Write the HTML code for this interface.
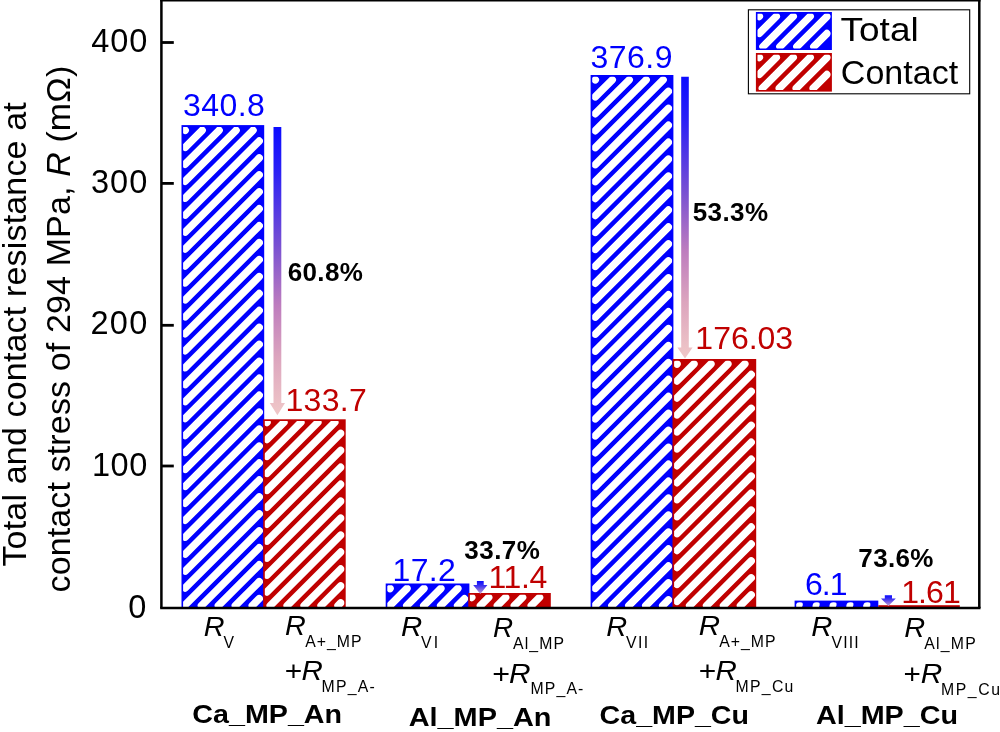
<!DOCTYPE html>
<html lang="en"><head><meta charset="utf-8"><title>Total and contact resistance</title>
<style>html,body{margin:0;padding:0;background:#fff}svg{display:block}text{font-family:"Liberation Sans",Arial,Helvetica,sans-serif}.b{font-weight:bold}.i{font-style:italic}</style></head><body>
<svg width="1000" height="732" viewBox="0 0 1000 732">
<defs>
<linearGradient id="g1" x1="0" y1="0" x2="0" y2="1"><stop offset="0" stop-color="#0c0cff"/><stop offset="0.15" stop-color="#2a20f5"/><stop offset="0.41" stop-color="#7850d2"/><stop offset="0.62" stop-color="#be7dbe"/><stop offset="0.8" stop-color="#dca5be"/><stop offset="1" stop-color="#f0c8c8"/></linearGradient>
<linearGradient id="g2" x1="0" y1="0" x2="0" y2="1"><stop offset="0" stop-color="#0a0aff"/><stop offset="0.35" stop-color="#3a30f0"/><stop offset="1" stop-color="#c9a0cf"/></linearGradient>
</defs>
<rect width="1000" height="732" fill="#fff"/>
<g id="bars">
<rect x="181.5" y="125.1" width="82.7" height="483.9" fill="#0000ff"/><clipPath id="c1"><rect x="183.1" y="126.9" width="79.9" height="480.5"/></clipPath><path clip-path="url(#c1)" d="M185.20 130.30L185.21 130.29M185.20 147.25L202.15 130.30M185.20 164.20L219.10 130.30M185.20 181.15L236.05 130.30M185.20 198.10L253.00 130.30M185.20 215.05L259.20 141.05M185.20 232.00L259.20 158.00M185.20 248.95L259.20 174.95M185.20 265.90L259.20 191.90M185.20 282.85L259.20 208.85M185.20 299.80L259.20 225.80M185.20 316.75L259.20 242.75M185.20 333.70L259.20 259.70M185.20 350.65L259.20 276.65M185.20 367.60L259.20 293.60M185.20 384.55L259.20 310.55M185.20 401.50L259.20 327.50M185.20 418.45L259.20 344.45M185.20 435.40L259.20 361.40M185.20 452.35L259.20 378.35M185.20 469.30L259.20 395.30M185.20 486.25L259.20 412.25M185.20 503.20L259.20 429.20M185.20 520.15L259.20 446.15M185.20 537.10L259.20 463.10M185.20 554.05L259.20 480.05M185.20 571.00L259.20 497.00M185.20 587.95L259.20 513.95M185.20 604.90L259.20 530.90M201.45 605.60L259.20 547.85M218.40 605.60L259.20 564.80M235.35 605.60L259.20 581.75M252.30 605.60L259.20 598.70" stroke="#fff" stroke-width="7.5" stroke-linecap="round" fill="none"/>
<rect x="263.2" y="419.3" width="82.5" height="189.7" fill="#c00000"/><clipPath id="c2"><rect x="264.8" y="421.1" width="79.7" height="186.3"/></clipPath><path clip-path="url(#c2)" d="M266.95 422.45L266.96 422.44M266.95 439.40L283.90 422.45M266.95 456.35L300.85 422.45M266.95 473.30L317.80 422.45M266.95 490.25L334.75 422.45M266.95 507.20L340.70 433.45M266.95 524.15L340.70 450.40M266.95 541.10L340.70 467.35M266.95 558.05L340.70 484.30M266.95 575.00L340.70 501.25M266.95 591.95L340.70 518.20M270.25 605.60L340.70 535.15M287.20 605.60L340.70 552.10M304.15 605.60L340.70 569.05M321.10 605.60L340.70 586.00M338.05 605.60L340.70 602.95" stroke="#fff" stroke-width="7.5" stroke-linecap="round" fill="none"/>
<rect x="385.7" y="583.5" width="83.7" height="25.5" fill="#0000ff"/><clipPath id="c3"><rect x="387.3" y="585.3" width="80.9" height="22.1"/></clipPath><path clip-path="url(#c3)" d="M390.00 588.50L390.01 588.49M390.00 605.45L406.95 588.50M406.80 605.60L423.90 588.50M423.75 605.60L440.85 588.50M440.70 605.60L457.80 588.50M457.65 605.60L464.40 598.85" stroke="#fff" stroke-width="7.5" stroke-linecap="round" fill="none"/>
<rect x="468.3" y="593.0" width="82.5" height="16.0" fill="#c00000"/><clipPath id="c4"><rect x="469.9" y="594.8" width="79.7" height="12.6"/></clipPath><path clip-path="url(#c4)" d="M471.70 597.40L471.71 597.39M480.45 605.60L488.65 597.40M497.40 605.60L505.60 597.40M514.35 605.60L522.55 597.40M531.30 605.60L539.50 597.40" stroke="#fff" stroke-width="7.5" stroke-linecap="round" fill="none"/>
<rect x="590.6" y="75.0" width="82.8" height="534.0" fill="#0000ff"/><clipPath id="c5"><rect x="592.2" y="76.8" width="80.0" height="530.6"/></clipPath><path clip-path="url(#c5)" d="M595.30 79.80L595.31 79.79M595.30 96.75L612.25 79.80M595.30 113.70L629.20 79.80M595.30 130.65L646.15 79.80M595.30 147.60L663.10 79.80M595.30 164.55L668.40 91.45M595.30 181.50L668.40 108.40M595.30 198.45L668.40 125.35M595.30 215.40L668.40 142.30M595.30 232.35L668.40 159.25M595.30 249.30L668.40 176.20M595.30 266.25L668.40 193.15M595.30 283.20L668.40 210.10M595.30 300.15L668.40 227.05M595.30 317.10L668.40 244.00M595.30 334.05L668.40 260.95M595.30 351.00L668.40 277.90M595.30 367.95L668.40 294.85M595.30 384.90L668.40 311.80M595.30 401.85L668.40 328.75M595.30 418.80L668.40 345.70M595.30 435.75L668.40 362.65M595.30 452.70L668.40 379.60M595.30 469.65L668.40 396.55M595.30 486.60L668.40 413.50M595.30 503.55L668.40 430.45M595.30 520.50L668.40 447.40M595.30 537.45L668.40 464.35M595.30 554.40L668.40 481.30M595.30 571.35L668.40 498.25M595.30 588.30L668.40 515.20M595.30 605.25L668.40 532.15M611.90 605.60L668.40 549.10M628.85 605.60L668.40 566.05M645.80 605.60L668.40 583.00M662.75 605.60L668.40 599.95" stroke="#fff" stroke-width="7.5" stroke-linecap="round" fill="none"/>
<rect x="672.5" y="359.0" width="83.7" height="250.0" fill="#c00000"/><clipPath id="c6"><rect x="674.1" y="360.8" width="80.9" height="246.6"/></clipPath><path clip-path="url(#c6)" d="M677.00 364.00L677.01 363.99M677.00 380.95L693.95 364.00M677.00 397.90L710.90 364.00M677.00 414.85L727.85 364.00M677.00 431.80L744.80 364.00M677.00 448.75L751.20 374.55M677.00 465.70L751.20 391.50M677.00 482.65L751.20 408.45M677.00 499.60L751.20 425.40M677.00 516.55L751.20 442.35M677.00 533.50L751.20 459.30M677.00 550.45L751.20 476.25M677.00 567.40L751.20 493.20M677.00 584.35L751.20 510.15M677.00 601.30L751.20 527.10M689.65 605.60L751.20 544.05M706.60 605.60L751.20 561.00M723.55 605.60L751.20 577.95M740.50 605.60L751.20 594.90" stroke="#fff" stroke-width="7.5" stroke-linecap="round" fill="none"/>
<rect x="794.6" y="600.6" width="83.7" height="7.4" fill="#0000ff"/>
<clipPath id="cb7"><rect x="796.2" y="602.3" width="80.9" height="6"/></clipPath>
<g clip-path="url(#cb7)" fill="#fff"><ellipse cx="799.2" cy="605.3" rx="3.5" ry="3.3" transform="skewX(-12)" style="transform-origin:799.2px 605.3px"/><ellipse cx="816.1" cy="605.3" rx="3.5" ry="3.3" transform="skewX(-12)" style="transform-origin:816.1px 605.3px"/><ellipse cx="833.0" cy="605.3" rx="3.5" ry="3.3" transform="skewX(-12)" style="transform-origin:833.0px 605.3px"/><ellipse cx="849.9" cy="605.3" rx="3.5" ry="3.3" transform="skewX(-12)" style="transform-origin:849.9px 605.3px"/><ellipse cx="866.8" cy="605.3" rx="3.5" ry="3.3" transform="skewX(-12)" style="transform-origin:866.8px 605.3px"/></g>
<rect x="878.3" y="605.2" width="81.5" height="2.8" fill="#c00000"/>
</g>
<g id="arrows">
<path d="M273.5 127.0H281.3V403.0H285.0L277.4 415.2L269.8 403.0H273.5Z" fill="url(#g1)"/>
<path d="M681.2 76.8H688.8V347.4H692.6L685.0 358.4L677.4 347.4H681.2Z" fill="url(#g1)"/>
<path d="M476.9 581.0H483.7V585.0H487.4L480.3 594.0L473.2 585.0H476.9Z" fill="url(#g2)"/>
<path d="M884.8 595.2H892.0V598.4H895.8L888.4 606.0L881.0 598.4H884.8Z" fill="url(#g2)"/>
</g>
<g id="axes" stroke="#000" fill="none">
<path d="M161.4 0V608.0M979.3 0V608.0" stroke-width="2.5"/>
<path d="M160.15 608.0H980.55" stroke-width="2.5"/>
<path d="M160.15 0.3H980.55" stroke-width="2.6"/>
<path d="M161 466.0H173.8" stroke-width="2.8"/>
<path d="M161 325.3H173.8" stroke-width="2.8"/>
<path d="M161 183.4H173.8" stroke-width="2.8"/>
<path d="M161 42.5H173.8" stroke-width="2.8"/>
</g>
<g id="legend">
<rect x="748.4" y="9.8" width="221.3" height="84" fill="#fff" stroke="#000" stroke-width="1.1"/>
<rect x="755.9" y="12.0" width="76.0" height="38.0" fill="#0000ff"/><clipPath id="c7"><rect x="757.5" y="13.8" width="73.2" height="34.6"/></clipPath><path clip-path="url(#c7)" d="M759.30 16.40L759.31 16.39M759.30 33.35L776.25 16.40M763.00 46.60L793.20 16.40M779.95 46.60L810.15 16.40M796.90 46.60L826.90 16.60M813.85 46.60L826.90 33.55" stroke="#fff" stroke-width="7.5" stroke-linecap="round" fill="none"/>
<rect x="755.9" y="53.0" width="76.0" height="38.6" fill="#c00000"/><clipPath id="c8"><rect x="757.5" y="54.8" width="73.2" height="35.2"/></clipPath><path clip-path="url(#c8)" d="M759.30 57.40L759.31 57.39M759.30 74.35L776.25 57.40M762.40 88.20L793.20 57.40M779.35 88.20L810.15 57.40M796.30 88.20L826.90 57.60M813.25 88.20L826.90 74.55" stroke="#fff" stroke-width="7.5" stroke-linecap="round" fill="none"/>
</g>
<g id="texts">
<text x="91.15" y="51.5" font-size="32.5" textLength="56.09" lengthAdjust="spacing">400</text>
<text x="91.07" y="193.2" font-size="32.5" textLength="56.17" lengthAdjust="spacing">300</text>
<text x="90.58" y="334.0" font-size="32.5" textLength="56.66" lengthAdjust="spacing">200</text>
<text x="92.08" y="476.2" font-size="32.5" textLength="55.15" lengthAdjust="spacing">100</text>
<text x="128.31" y="618.2" font-size="32.5">0</text>
<text x="182.95" y="115.6" font-size="32" fill="#0000ff" textLength="81.87" lengthAdjust="spacing">340.8</text>
<text x="285.57" y="410.5" font-size="32" fill="#c00000" textLength="81.11" lengthAdjust="spacing">133.7</text>
<text x="392.55" y="580.5" font-size="32" fill="#0000ff" textLength="63.17" lengthAdjust="spacing">17.2</text>
<text x="488.57" y="587.6" font-size="32" fill="#c00000" textLength="58.65" lengthAdjust="spacing">11.4</text>
<text x="590.39" y="68.3" font-size="32" fill="#0000ff" textLength="82.12" lengthAdjust="spacing">376.9</text>
<text x="695.36" y="349.3" font-size="32" fill="#c00000" textLength="97.76" lengthAdjust="spacing">176.03</text>
<text x="804.93" y="595.1" font-size="32" fill="#0000ff" textLength="42.52" lengthAdjust="spacing">6.1</text>
<text x="901.18" y="602.9" font-size="32" fill="#c00000" textLength="59.51" lengthAdjust="spacing">1.61</text>
<text x="840.57" y="41.0" font-size="33" textLength="78.14" lengthAdjust="spacingAndGlyphs">Total</text>
<text x="840.84" y="83.6" font-size="33" textLength="117.33" lengthAdjust="spacingAndGlyphs">Contact</text>
<text x="287.71" y="281.2" font-size="26" class="b" textLength="75.17" lengthAdjust="spacing">60.8%</text>
<text x="692.78" y="221.0" font-size="26" class="b" textLength="75.27" lengthAdjust="spacing">53.3%</text>
<text x="464.30" y="559.4" font-size="26" class="b" textLength="75.55" lengthAdjust="spacing">33.7%</text>
<text x="858.37" y="567.2" font-size="26" class="b" textLength="75.08" lengthAdjust="spacing">73.6%</text>
<text x="192.33" y="723.0" font-size="26" class="b" textLength="149.77" lengthAdjust="spacingAndGlyphs">Ca_MP_An</text>
<text x="408.71" y="726.4" font-size="26" class="b" textLength="142.73" lengthAdjust="spacingAndGlyphs">Al_MP_An</text>
<text x="599.63" y="723.5" font-size="26" class="b" textLength="149.37" lengthAdjust="spacingAndGlyphs">Ca_MP_Cu</text>
<text x="815.93" y="724.0" font-size="26" class="b" textLength="142.07" lengthAdjust="spacingAndGlyphs">Al_MP_Cu</text>
<text transform="translate(25.7 566.56) rotate(-90)" font-size="34" textLength="464.39" lengthAdjust="spacing">Total and contact resistance at</text>
<text transform="translate(70.0 592.47) rotate(-90)" font-size="34" textLength="526.69" lengthAdjust="spacing">contact stress of 294 MPa, <tspan class="i">R</tspan> (mΩ)</text>
<text x="203.86" y="636.2" font-size="27" class="i" textLength="20.78" lengthAdjust="spacingAndGlyphs">R</text>
<text x="223.61" y="647.7" font-size="15.8">V</text>
<text x="285.05" y="634.8" font-size="27" class="i" textLength="20.78" lengthAdjust="spacingAndGlyphs">R</text>
<text x="305.18" y="646.7" font-size="15.8" textLength="56.36" lengthAdjust="spacing">A+_MP</text>
<text x="401.11" y="636.1" font-size="27" class="i" textLength="21.24" lengthAdjust="spacingAndGlyphs">R</text>
<text x="421.03" y="647.7" font-size="15.8" textLength="17.00" lengthAdjust="spacing">VI</text>
<text x="492.98" y="637.3" font-size="27" class="i" textLength="20.11" lengthAdjust="spacingAndGlyphs">R</text>
<text x="512.96" y="649.3" font-size="15.8" textLength="51.14" lengthAdjust="spacing">Al_MP</text>
<text x="606.24" y="636.2" font-size="27" class="i" textLength="20.90" lengthAdjust="spacingAndGlyphs">R</text>
<text x="626.03" y="647.7" font-size="15.8" textLength="22.00" lengthAdjust="spacing">VII</text>
<text x="698.81" y="634.8" font-size="27" class="i" textLength="21.32" lengthAdjust="spacingAndGlyphs">R</text>
<text x="719.18" y="646.7" font-size="15.8" textLength="56.36" lengthAdjust="spacing">A+_MP</text>
<text x="811.23" y="636.2" font-size="27" class="i" textLength="21.10" lengthAdjust="spacingAndGlyphs">R</text>
<text x="831.56" y="647.7" font-size="15.8" textLength="27.15" lengthAdjust="spacing">VIII</text>
<text x="904.27" y="637.3" font-size="27" class="i" textLength="20.90" lengthAdjust="spacingAndGlyphs">R</text>
<text x="924.24" y="649.3" font-size="15.8" textLength="51.44" lengthAdjust="spacing">Al_MP</text>
<text x="301.49" y="680.1" font-size="27" class="i" textLength="21.32" lengthAdjust="spacingAndGlyphs">R</text>
<text x="321.60" y="692.0" font-size="15.8" textLength="53.29" lengthAdjust="spacing">MP_A-</text>
<text x="284.71" y="680.1" font-size="27" textLength="17.50" lengthAdjust="spacingAndGlyphs">+</text>
<text x="508.95" y="682.5" font-size="27" class="i" textLength="21.58" lengthAdjust="spacingAndGlyphs">R</text>
<text x="530.60" y="694.4" font-size="15.8" textLength="52.74" lengthAdjust="spacing">MP_A-</text>
<text x="492.21" y="682.5" font-size="27" textLength="17.81" lengthAdjust="spacingAndGlyphs">+</text>
<text x="715.49" y="680.1" font-size="27" class="i" textLength="21.32" lengthAdjust="spacingAndGlyphs">R</text>
<text x="735.60" y="692.1" font-size="15.8" textLength="57.79" lengthAdjust="spacing">MP_Cu</text>
<text x="698.71" y="680.1" font-size="27" textLength="17.50" lengthAdjust="spacingAndGlyphs">+</text>
<text x="920.75" y="682.7" font-size="27" class="i" textLength="21.51" lengthAdjust="spacingAndGlyphs">R</text>
<text x="940.95" y="694.6" font-size="15.8" textLength="58.99" lengthAdjust="spacing">MP_Cu</text>
<text x="903.53" y="682.7" font-size="27" textLength="17.36" lengthAdjust="spacingAndGlyphs">+</text>
</g>
</svg></body></html>
